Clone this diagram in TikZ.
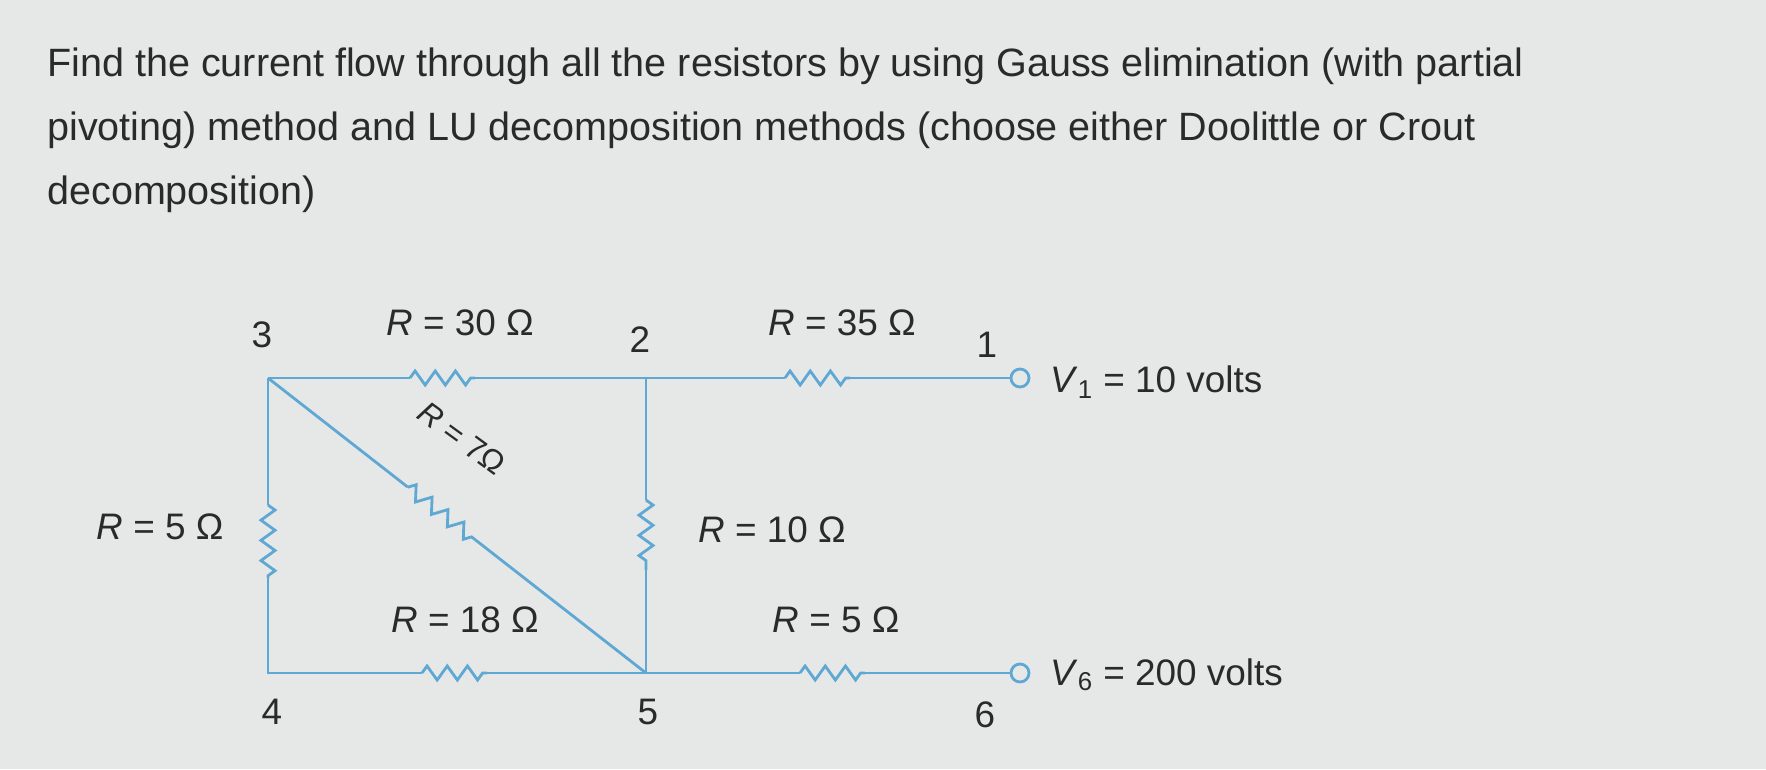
\documentclass[tikz,border=0pt]{standalone}
\usepackage{fontspec}
\setmainfont{Liberation Sans}
\usetikzlibrary{decorations.pathmorphing,calc}
\definecolor{bg}{HTML}{E6E8E8}
\definecolor{wire}{HTML}{5FA8D3}
\definecolor{ink}{HTML}{2A2A2A}
\begin{document}
\begin{tikzpicture}[x=0.02cm,y=-0.02cm,
  w/.style={draw=wire,line width=1.6pt},
  res/.style={draw=wire,line width=1.6pt,decorate,decoration={zigzag,segment length=11.5pt,amplitude=4pt}},
  lab/.style={text=ink,font=\fontsize{21}{25}\selectfont,inner sep=0},
  term/.style={circle,draw=wire,line width=1.6pt,fill=bg,minimum size=0.36cm,inner sep=0}]
\fill[bg] (0,0) rectangle (1766,769);
\useasboundingbox (0,0) rectangle (1766,769);
\node[lab,anchor=north west,align=left,font=\fontsize{22.5}{36.5}\selectfont] (q) at (47,47)
 {Find the current flow through all the resistors by using Gauss elimination (with partial\\ pivoting) method and LU decomposition methods (choose either Doolittle or Crout\\ decomposition)};
\coordinate (n3) at (268,378); \coordinate (n2) at (646,378);
\coordinate (n4) at (268,673); \coordinate (n5) at (646,673);
\node[term] (n1) at (1020,378) {}; \node[term] (n6) at (1020,673) {};
\coordinate (a1) at (410,378); \coordinate (a2) at (475,378);
\coordinate (b1) at (785,378); \coordinate (b2) at (850,378);
\coordinate (c1) at (268,505); \coordinate (c2) at (268,578);
\coordinate (d1) at (646,500); \coordinate (d2) at (646,570);
\coordinate (e1) at ($(n3)!0.37!(n5)$); \coordinate (e2) at ($(n3)!0.55!(n5)$);
\coordinate (f1) at (422,673); \coordinate (f2) at (487,673);
\coordinate (g1) at (800,673); \coordinate (g2) at (865,673);
\draw[w] (n3)--(a1) (a2)--(n2)--(b1) (b2)--(n1.west);
\draw[w] (n3)--(c1) (c2)--(n4)--(f1) (f2)--(n5)--(g1) (g2)--(n6.west);
\draw[w] (n2)--(d1) (d2)--(n5);
\draw[w] (n3)--(e1) (e2)--(n5);
\draw[res] (a1)--(a2); \draw[res] (b1)--(b2); \draw[res] (c1)--(c2);
\draw[res] (d1)--(d2); \draw[res] (e1)--(e2); \draw[res] (f1)--(f2); \draw[res] (g1)--(g2);
\node[lab] (l3) at (262,335) {3};
\node[lab] (l2) at (640,340) {2};
\node[lab] (l1) at (987,345) {1};
\node[lab] (l4) at (272,712) {4};
\node[lab] (l5) at (648,712) {5};
\node[lab] (l6) at (985,715) {6};
\node[lab] (r30) at (460,323) {\textit{R} = 30 Ω};
\node[lab] (r35) at (842,323) {\textit{R} = 35 Ω};
\node[lab,rotate=-36,font=\fontsize{18}{22}\selectfont] (r7) at (462,438) {\textit{R} = 7Ω};
\node[lab] (r5a) at (160,527) {\textit{R} = 5 Ω};
\node[lab] (r10) at (772,530) {\textit{R} = 10 Ω};
\node[lab] (r18) at (465,620) {\textit{R} = 18 Ω};
\node[lab] (r5b) at (836,620) {\textit{R} = 5 Ω};
\node[lab,anchor=west] (v1) at (1050,382) {\textit{V}\textsubscript{1} = 10 volts};
\node[lab,anchor=west] (v6) at (1050,675) {\textit{V}\textsubscript{6} = 200 volts};
\end{tikzpicture}
\end{document}
